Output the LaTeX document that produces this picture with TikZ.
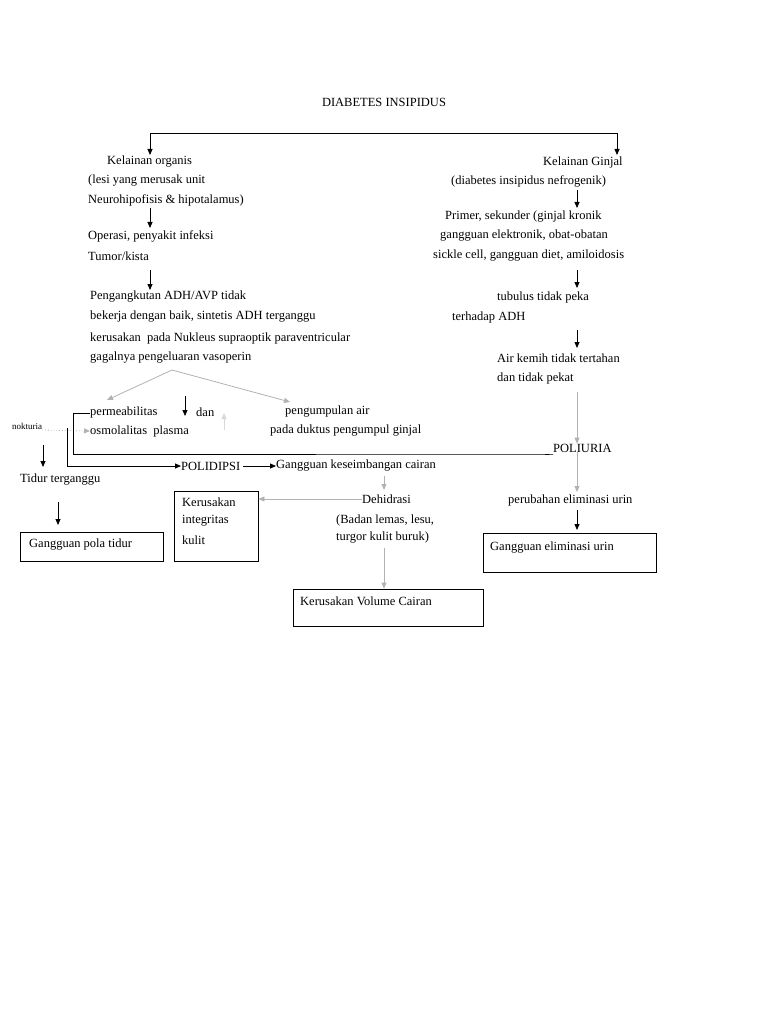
\documentclass[tikz,border=0pt]{standalone}
\usepackage{fontspec}
\setmainfont{Liberation Serif}
\usetikzlibrary{arrows.meta}
\begin{document}
\begin{tikzpicture}[x=1pt,y=-1pt,
  t/.style={anchor=west,inner sep=0pt,font=\fontsize{12.5}{15}\selectfont},
  ar/.style={-{Triangle[length=6pt,width=5pt]},line width=0.8pt},
  gar/.style={ar,draw=black!30},
  bx/.style={draw,line width=0.8pt}]
\useasboundingbox (0,0) rectangle (768,1024);
\node[t,anchor=center] (title) at (384,102) {DIABETES INSIPIDUS};
\coordinate (tl) at (150,133); \coordinate (tr) at (617,133);
\draw[line width=0.8pt] (tl) -- (tr);
\node[t] (ko) at (107,162) {Kelainan organis};
\node[t] (l1) at (88,181) {(lesi yang merusak unit};
\node[t] (l2) at (88,200) {Neurohipofisis \& hipotalamus)};
\draw[ar] (tl) -- (150,155);
\draw[ar] (tr) -- (617,155);
\node[t] (kg) at (543,162) {Kelainan Ginjal};
\node[t] (r1) at (451,181) {(diabetes insipidus nefrogenik)};
\coordinate (a1) at (150,208); \coordinate (a2) at (150,228);
\draw[ar] (a1) -- (a2);
\node[t] (op) at (88,236) {Operasi, penyakit infeksi};
\node[t] (tk) at (88,256) {Tumor/kista};
\coordinate (a3) at (150,270); \coordinate (a4) at (150,290);
\draw[ar] (a3) -- (a4);
\node[t] (p1) at (90,297) {Pengangkutan ADH/AVP tidak};
\node[t] (p2) at (90,317) {bekerja dengan baik, sintetis ADH terganggu};
\node[t] (p3) at (90,338) {kerusakan\ \ pada Nukleus supraoptik paraventricular};
\node[t] (p4) at (90,358) {gagalnya pengeluaran vasoperin};
\coordinate (b1) at (577,190); \coordinate (b2) at (577,208);
\draw[ar] (b1) -- (b2);
\node[t] (r2) at (445,217) {Primer, sekunder (ginjal kronik};
\node[t] (r3) at (440,236) {gangguan elektronik, obat-obatan};
\node[t] (r4) at (433,256) {sickle cell, gangguan diet, amiloidosis};
\coordinate (b3) at (577,270); \coordinate (b4) at (577,288);
\draw[ar] (b3) -- (b4);
\node[t] (tb) at (497,297) {tubulus tidak peka};
\node[t] (th) at (452,317) {terhadap ADH};
\coordinate (b5) at (577,330); \coordinate (b6) at (577,348);
\draw[ar] (b5) -- (b6);
\node[t] (ak) at (497,358) {Air kemih tidak tertahan};
\node[t] (dt) at (497,378) {dan tidak pekat};
\node[t] (pol) at (553,448) {POLIURIA};
\draw[gar] (577,392) -- (pol.north -| 577,0);
\node[t] (pe) at (508,500) {perubahan eliminasi urin};
\draw[gar] (pol.south -| 577,0) -- (577,492);
\draw[ar] (577,510) -- (577,530);
\node[bx,minimum width=173pt,minimum height=39pt] (geu) at (569.5,552.5) {};
\node[t] at (490,548) {Gangguan eliminasi urin};
% branches
\coordinate (br) at (172,370);
\draw[gar] (br) -- (107,400);
\draw[gar] (br) -- (290,402);
\node[t] (perm) at (90,412) {permeabilitas};
\draw[ar] (185,396) -- (185,416);
\node[t] (dan) at (196,412) {dan};
\draw[gar,draw=black!15] (224,430) -- (224,413);
\node[t] (osm) at (90,431) {osmolalitas\ \ plasma};
\node[t] (pa) at (285,412) {pengumpulan air};
\node[t] (pd) at (270,431) {pada duktus pengumpul ginjal};
\node[t,font=\fontsize{9}{11}\selectfont] (nok) at (12,426) {nokturia};
\draw[gar,dotted] (nok.east) ++(0,4) -- (osm.west);
\draw[line width=0.8pt] (perm.west) ++(0,1) -- (73,413) -- (73,454) -- (pol.west |- 0,454) -- (545,454);
\node[t] (poli) at (181,466) {POLIDIPSI};
\draw[ar] (67,428) -- (67,466) -- (poli.west);
\node[t] (gk) at (276,466) {Gangguan keseimbangan cairan};
\draw[ar] (poli.east) ++(3,0) -- (gk.west);
\node[t] (deh) at (362,499) {Dehidrasi};
\draw[gar] (384,476) -- (384,490);
\node[t] (bl) at (336,520) {(Badan lemas, lesu,};
\node[t] (tg) at (336,538) {turgor kulit buruk)};
\node[bx,minimum width=84pt,minimum height=70pt] (kik) at (216,526) {};
\node[t] at (182,502) {Kerusakan};
\node[t] at (182,521) {integritas};
\node[t] at (182,540) {kulit};
\draw[gar] (deh.west) -- (kik.east |- deh.west);
\node[bx,minimum width=190pt,minimum height=37pt] (kvc) at (388,607.5) {};
\node[t] at (300,601) {Kerusakan Volume Cairan};
\draw[gar] (384,548) -- (kvc.north -| 384,0);
\draw[ar] (43,445) -- (43,467);
\node[t] (tt) at (20,480) {Tidur terganggu};
\draw[ar] (58,502) -- (58,525);
\node[bx,minimum width=143pt,minimum height=29pt] (gpt) at (91.5,546.5) {};
\node[t] at (29,545) {Gangguan pola tidur};
\end{tikzpicture}
\end{document}
